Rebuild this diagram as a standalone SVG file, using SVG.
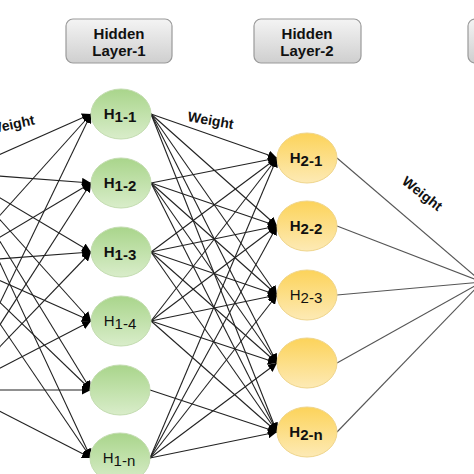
<svg xmlns="http://www.w3.org/2000/svg" width="474" height="474" viewBox="0 0 474 474">
<defs>
<linearGradient id="gBox" x1="0" y1="0" x2="0" y2="1"><stop offset="0" stop-color="#f4f4f4"/><stop offset="1" stop-color="#cfcfcf"/></linearGradient>
<linearGradient id="gGreen" x1="0" y1="0" x2="0" y2="1"><stop offset="0" stop-color="#a9d58b"/><stop offset="1" stop-color="#d9edca"/></linearGradient>
<linearGradient id="gYellow" x1="0" y1="0" x2="0" y2="1"><stop offset="0" stop-color="#fcd35a"/><stop offset="1" stop-color="#fdeab5"/></linearGradient>
<marker id="arr" markerUnits="userSpaceOnUse" markerWidth="10" markerHeight="9" refX="9" refY="4.5" orient="auto"><path d="M0,0 L9,4.5 L0,9 z" fill="#000"/></marker>
<style>
.box{fill:url(#gBox);stroke:#9a9a9a;stroke-width:1.2}
.bt{font-family:"Liberation Sans",Arial,sans-serif;font-weight:bold;font-size:15px;fill:#111;text-anchor:middle}
.gn{fill:url(#gGreen);stroke:#c3dcb0;stroke-width:1}
.yn{fill:url(#gYellow);stroke:#efd58c;stroke-width:1}
.nt{font-family:"Liberation Sans",Arial,sans-serif;font-size:15px;fill:#111;text-anchor:middle}
.b{font-weight:bold}
.c line{stroke:#222;stroke-width:1.1;marker-end:url(#arr)}
.o line{stroke:#555;stroke-width:1.1}
.w{font-family:"Liberation Sans",Arial,sans-serif;font-weight:bold;font-size:14px;fill:#111}
</style>
</defs>
<rect width="474" height="474" fill="#fff"/>
<g id="connectors">
<g class="c">
<line x1="-42" y1="173" x2="91" y2="114"/><line x1="-42" y1="173" x2="91" y2="183"/><line x1="-42" y1="173" x2="91" y2="252"/><line x1="-42" y1="173" x2="91" y2="321"/><line x1="-42" y1="173" x2="91" y2="390"/><line x1="-42" y1="173" x2="91" y2="458"/>
<line x1="-42" y1="262" x2="91" y2="114"/><line x1="-42" y1="262" x2="91" y2="183"/><line x1="-42" y1="262" x2="91" y2="252"/><line x1="-42" y1="262" x2="91" y2="321"/><line x1="-42" y1="262" x2="91" y2="390"/><line x1="-42" y1="262" x2="91" y2="458"/>
<line x1="-42" y1="390" x2="91" y2="114"/><line x1="-42" y1="390" x2="91" y2="183"/><line x1="-42" y1="390" x2="91" y2="252"/><line x1="-42" y1="390" x2="91" y2="321"/><line x1="-42" y1="390" x2="91" y2="390"/><line x1="-42" y1="390" x2="91" y2="458"/>
<line x1="151" y1="114" x2="277" y2="158"/><line x1="151" y1="114" x2="277" y2="226"/><line x1="151" y1="114" x2="277" y2="295"/><line x1="151" y1="114" x2="277" y2="363"/><line x1="151" y1="114" x2="277" y2="432"/>
<line x1="151" y1="183" x2="277" y2="158"/><line x1="151" y1="183" x2="277" y2="226"/><line x1="151" y1="183" x2="277" y2="295"/><line x1="151" y1="183" x2="277" y2="363"/><line x1="151" y1="183" x2="277" y2="432"/>
<line x1="151" y1="252" x2="277" y2="158"/><line x1="151" y1="252" x2="277" y2="226"/><line x1="151" y1="252" x2="277" y2="295"/><line x1="151" y1="252" x2="277" y2="363"/><line x1="151" y1="252" x2="277" y2="432"/>
<line x1="151" y1="321" x2="277" y2="158"/><line x1="151" y1="321" x2="277" y2="226"/><line x1="151" y1="321" x2="277" y2="295"/><line x1="151" y1="321" x2="277" y2="363"/><line x1="151" y1="321" x2="277" y2="432"/>
<line x1="150" y1="390" x2="277" y2="432"/>
<line x1="150" y1="458" x2="277" y2="158"/><line x1="150" y1="458" x2="277" y2="226"/><line x1="150" y1="458" x2="277" y2="295"/><line x1="150" y1="458" x2="277" y2="363"/><line x1="150" y1="458" x2="277" y2="432"/>
</g>
<g class="o">
<line x1="337" y1="158" x2="482" y2="282"/><line x1="337" y1="226" x2="482" y2="282"/><line x1="337" y1="295" x2="482" y2="282"/><line x1="337" y1="363" x2="482" y2="282"/><line x1="337" y1="432" x2="482" y2="282"/>
</g>
</g>
<g id="box-hidden1"><rect class="box" x="66" y="19" width="106" height="44" rx="7"/><text class="bt" x="119" y="39">Hidden</text><text class="bt" x="119" y="56">Layer-1</text></g>
<g id="box-hidden2"><rect class="box" x="254" y="19" width="107" height="44" rx="7"/><text class="bt" x="307" y="39">Hidden</text><text class="bt" x="307" y="56">Layer-2</text></g>
<g id="box-output"><rect class="box" x="468" y="19" width="40" height="44" rx="7"/></g>
<g id="h1-1"><ellipse class="gn" cx="121" cy="114" rx="30" ry="25"/><text class="nt b" x="120" y="119">H<tspan dy="3">1-1</tspan></text></g>
<g id="h1-2"><ellipse class="gn" cx="121" cy="183" rx="30" ry="25"/><text class="nt b" x="120" y="188">H<tspan dy="3">1-2</tspan></text></g>
<g id="h1-3"><ellipse class="gn" cx="121" cy="252" rx="30" ry="25"/><text class="nt b" x="120" y="257">H<tspan dy="3">1-3</tspan></text></g>
<g id="h1-4"><ellipse class="gn" cx="121" cy="321" rx="30" ry="25"/><text class="nt" x="120" y="326">H<tspan dy="3">1-4</tspan></text></g>
<g id="h1-5"><ellipse class="gn" cx="120" cy="390" rx="30" ry="25"/></g>
<g id="h1-n"><ellipse class="gn" cx="120" cy="458" rx="30" ry="25"/><text class="nt" x="119" y="463">H<tspan dy="3">1-n</tspan></text></g>
<g id="h2-1"><ellipse class="yn" cx="307" cy="158" rx="30" ry="25"/><text class="nt b" x="306" y="163">H<tspan dy="3">2-1</tspan></text></g>
<g id="h2-2"><ellipse class="yn" cx="307" cy="226" rx="30" ry="25"/><text class="nt b" x="306" y="231">H<tspan dy="3">2-2</tspan></text></g>
<g id="h2-3"><ellipse class="yn" cx="307" cy="295" rx="30" ry="25"/><text class="nt" x="306" y="300">H<tspan dy="3">2-3</tspan></text></g>
<g id="h2-4"><ellipse class="yn" cx="307" cy="363" rx="30" ry="25"/></g>
<g id="h2-n"><ellipse class="yn" cx="307" cy="432" rx="30" ry="25"/><text class="nt b" x="306" y="437">H<tspan dy="3">2-n</tspan></text></g>
<g id="labels">
<text class="w" transform="translate(-10,134) rotate(-12)">Weight</text>
<text class="w" transform="translate(187,121) rotate(10)">Weight</text>
<text class="w" transform="translate(401,183) rotate(38)">Weight</text>
</g>
</svg>
